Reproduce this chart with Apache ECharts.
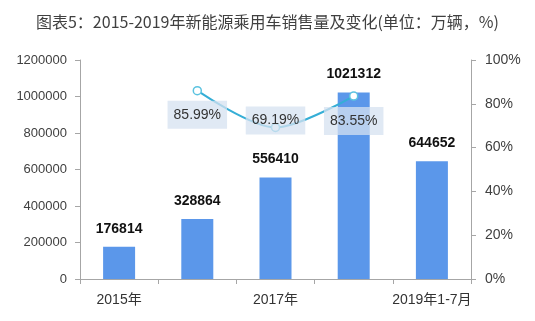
<!DOCTYPE html>
<html>
<head>
<meta charset="utf-8">
<script src="https://cdn.jsdelivr.net/npm/echarts@6/dist/echarts.min.js"></script>
<style>
html,body{margin:0;padding:0;background:#fff;}
#main{width:535px;height:321px;}
</style>
</head>
<body>
<div id="main"></div>
<script>
// 数据
var categories = ['2015年', '2016年', '2017年', '2018年', '2019年1-7月'];
var sales = [176814, 328864, 556410, 1021312, 644652];
var growth = ['-', 85.99, 69.19, 83.55, '-'];
var leftTicks = [0, 1200000, 200000];   // min, max, interval
var rightTicks = [0, 100, 20];
// 增长率标签的上下偏移
var growthLabelDy = [0, 24, -7, 25, 0];

var myChart = echarts.init(document.getElementById('main'));

var lineData = growth.map(function (v, i) {
	return { value: v, label: { offset: [0, growthLabelDy[i]] } };
});

var axisGrey = '#A6A6A6';
var option = {
	animation: false,
	title: {
		text: '图表5：2015-2019年新能源乘用车销售量及变化(单位：万辆，%)',
		left: 'center',
		top: 9,
		textStyle: {
			fontFamily: 'Noto Sans CJK SC',
			fontSize: 16,
			fontWeight: 'normal',
			color: '#404040'
		}
	},
	grid: {
		left: 80,
		right: 64,
		top: 60,
		bottom: 42
	},
	xAxis: {
		type: 'category',
		data: categories,
		axisLine: { lineStyle: { color: axisGrey } },
		axisTick: { show: true, alignWithLabel: false, interval: 0, length: 5, lineStyle: { color: axisGrey } },
		axisLabel: {
			interval: 1,
			margin: 14,
			fontSize: 14,
			color: '#333',
			fontFamily: 'Liberation Sans, Noto Sans CJK SC'
		}
	},
	yAxis: [
		{
			type: 'value',
			min: leftTicks[0],
			max: leftTicks[1],
			interval: leftTicks[2],
			axisLine: { show: true, lineStyle: { color: axisGrey } },
			axisTick: { show: true, length: 5, lineStyle: { color: axisGrey } },
			splitLine: { show: false },
			axisLabel: {
				margin: 13,
				fontSize: 13,
				color: '#404040',
				fontFamily: 'Liberation Sans',
				formatter: function (v) { return String(v); }
			}
		},
		{
			type: 'value',
			min: rightTicks[0],
			max: rightTicks[1],
			interval: rightTicks[2],
			axisLine: { show: true, lineStyle: { color: axisGrey } },
			axisTick: { show: true, length: 5, lineStyle: { color: axisGrey } },
			splitLine: { show: false },
			axisLabel: {
				margin: 14,
				fontSize: 14,
				color: '#404040',
				fontFamily: 'Liberation Sans',
				formatter: '{value}%'
			}
		}
	],
	series: [
		{
			name: '销量',
			type: 'bar',
			data: sales,
			barWidth: 32,
			itemStyle: { color: '#5B97EA' },
			label: {
				show: true,
				position: 'top',
				distance: 11,
				fontSize: 14,
				fontWeight: 'bold',
				color: '#111',
				fontFamily: 'Liberation Sans'
			}
		},
		{
			name: '增长率',
			type: 'line',
			yAxisIndex: 1,
			data: lineData,
			smooth: 0.3,
			symbol: 'circle',
			symbolSize: 8,
			lineStyle: { color: '#35AED6', width: 2 },
			itemStyle: { color: '#fff', borderColor: '#5BC3E0', borderWidth: 1.5 },
			label: {
				show: true,
				position: 'inside',
				formatter: function (p) { return p.value.toFixed(2) + '%'; },
				fontSize: 14,
				color: '#333',
				fontFamily: 'Liberation Sans',
				backgroundColor: 'rgba(214,226,240,0.75)',
				padding: [7, 6, 7, 6]
			},
			z: 3
		}
	]
};

myChart.setOption(option);
</script>
</body>
</html>
